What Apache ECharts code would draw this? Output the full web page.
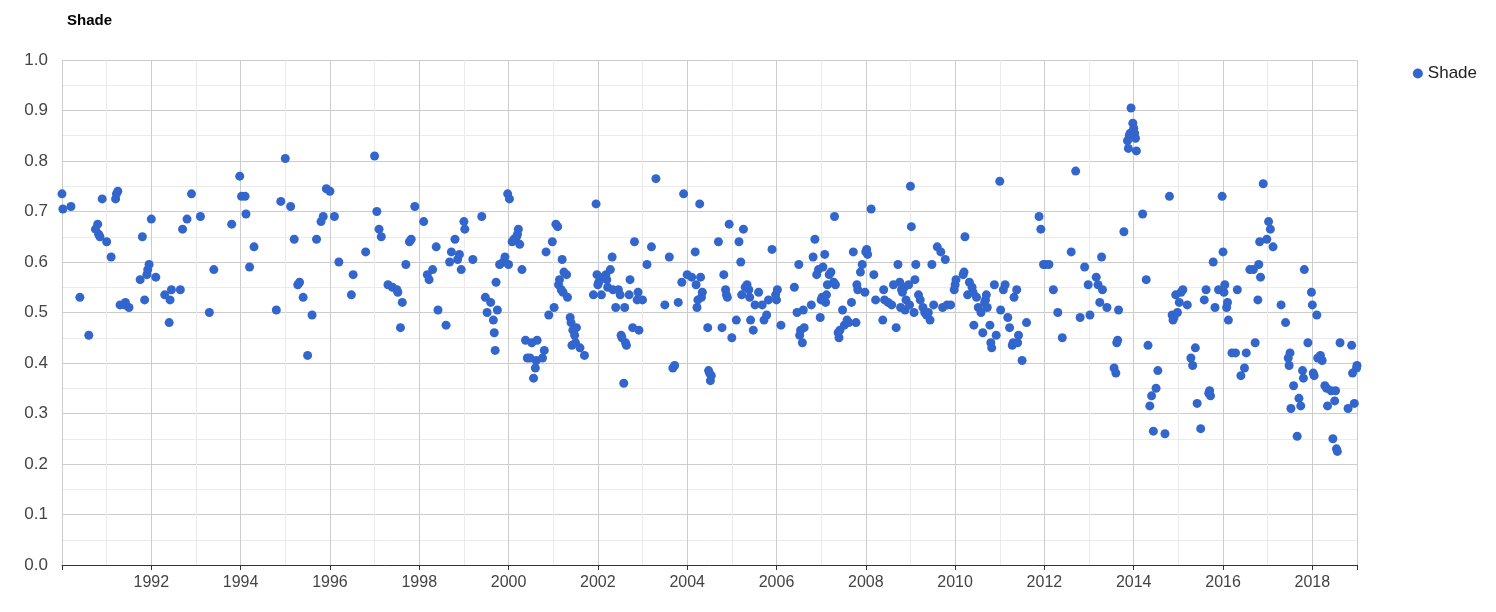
<!DOCTYPE html>
<html>
<head>
<meta charset="utf-8">
<script src="https://cdn.jsdelivr.net/npm/echarts@6/dist/echarts.min.js"></script>
<style>html,body{margin:0;padding:0;background:#fff}#chart{width:1496px;height:612px}</style>
</head>
<body>
<div id="chart"></div>
<script>
// [decimal year, shade]
var shadePoints = [
[1990.0,0.735],[1990.02,0.705],[1990.2,0.71],[1990.4,0.53],[1990.6,0.455],[1990.75,0.665],[1990.8,0.675],[1990.82,0.655],[1990.85,0.65],[1990.9,0.725],[1991.0,0.64],[1991.1,0.61],[1991.2,0.725],[1991.22,0.735],[1991.25,0.74],[1991.3,0.515],[1991.4,0.515],[1991.42,0.52],[1991.5,0.51],[1991.75,0.565],[1991.8,0.65],[1991.85,0.525],[1991.9,0.575],[1991.92,0.585],[1991.95,0.595],[1992.0,0.685],[1992.1,0.57],[1992.3,0.535],[1992.4,0.48],[1992.42,0.525],[1992.45,0.545],[1992.65,0.545],[1992.7,0.665],[1992.8,0.685],[1992.9,0.735],[1993.1,0.69],[1993.3,0.5],[1993.4,0.585],[1993.8,0.675],[1993.98,0.77],[1994.02,0.73],[1994.1,0.73],[1994.12,0.695],[1994.2,0.59],[1994.3,0.63],[1994.8,0.505],[1994.9,0.72],[1995.0,0.805],[1995.12,0.71],[1995.2,0.645],[1995.28,0.555],[1995.32,0.56],[1995.4,0.53],[1995.5,0.415],[1995.6,0.495],[1995.7,0.645],[1995.8,0.68],[1995.85,0.69],[1995.92,0.745],[1996.0,0.74],[1996.1,0.69],[1996.2,0.6],[1996.48,0.535],[1996.52,0.575],[1996.8,0.62],[1997.0,0.81],[1997.05,0.7],[1997.1,0.665],[1997.15,0.65],[1997.3,0.555],[1997.4,0.55],[1997.5,0.545],[1997.52,0.54],[1997.58,0.47],[1997.62,0.52],[1997.7,0.595],[1997.78,0.64],[1997.82,0.645],[1997.9,0.71],[1998.1,0.68],[1998.18,0.575],[1998.22,0.565],[1998.3,0.585],[1998.38,0.63],[1998.42,0.505],[1998.6,0.475],[1998.68,0.6],[1998.72,0.62],[1998.8,0.645],[1998.86,0.605],[1998.9,0.615],[1998.94,0.585],[1999.0,0.68],[1999.02,0.665],[1999.2,0.605],[1999.4,0.69],[1999.48,0.53],[1999.52,0.5],[1999.6,0.52],[1999.66,0.485],[1999.68,0.46],[1999.7,0.425],[1999.72,0.56],[1999.75,0.505],[1999.8,0.595],[1999.88,0.6],[1999.92,0.61],[1999.98,0.735],[2000.02,0.725],[2000.0,0.595],[2000.08,0.64],[2000.12,0.645],[2000.18,0.65],[2000.2,0.655],[2000.22,0.665],[2000.25,0.635],[2000.3,0.585],[2000.38,0.445],[2000.42,0.41],[2000.48,0.41],[2000.52,0.44],[2000.56,0.37],[2000.6,0.39],[2000.62,0.405],[2000.64,0.445],[2000.76,0.41],[2000.8,0.425],[2000.84,0.62],[2000.9,0.495],[2000.98,0.64],[2001.02,0.51],[2001.06,0.675],[2001.1,0.67],[2001.12,0.555],[2001.14,0.565],[2001.18,0.545],[2001.2,0.605],[2001.22,0.54],[2001.24,0.58],[2001.3,0.575],[2001.32,0.53],[2001.38,0.49],[2001.4,0.48],[2001.42,0.435],[2001.44,0.465],[2001.48,0.455],[2001.5,0.44],[2001.52,0.47],[2001.6,0.43],[2001.7,0.415],[2001.9,0.535],[2001.96,0.715],[2001.98,0.575],[2002.0,0.555],[2002.02,0.56],[2002.08,0.535],[2002.12,0.57],[2002.18,0.575],[2002.2,0.565],[2002.22,0.55],[2002.28,0.585],[2002.32,0.61],[2002.34,0.545],[2002.4,0.51],[2002.46,0.545],[2002.5,0.535],[2002.52,0.455],[2002.54,0.45],[2002.58,0.36],[2002.6,0.51],[2002.62,0.44],[2002.64,0.435],[2002.7,0.535],[2002.72,0.565],[2002.78,0.47],[2002.82,0.64],[2002.88,0.525],[2002.9,0.54],[2002.92,0.465],[2003.0,0.525],[2003.1,0.595],[2003.2,0.63],[2003.3,0.765],[2003.5,0.515],[2003.6,0.61],[2003.68,0.39],[2003.72,0.395],[2003.8,0.52],[2003.88,0.56],[2003.92,0.735],[2004.0,0.575],[2004.1,0.57],[2004.18,0.62],[2004.2,0.555],[2004.22,0.51],[2004.24,0.525],[2004.28,0.715],[2004.3,0.57],[2004.32,0.53],[2004.34,0.54],[2004.46,0.47],[2004.48,0.385],[2004.5,0.38],[2004.52,0.365],[2004.54,0.375],[2004.7,0.64],[2004.78,0.47],[2004.82,0.575],[2004.86,0.545],[2004.88,0.535],[2004.9,0.53],[2004.94,0.675],[2005.0,0.45],[2005.1,0.485],[2005.16,0.64],[2005.2,0.6],[2005.22,0.535],[2005.26,0.665],[2005.3,0.55],[2005.34,0.555],[2005.38,0.545],[2005.4,0.53],[2005.42,0.485],[2005.48,0.465],[2005.52,0.515],[2005.6,0.54],[2005.68,0.515],[2005.72,0.485],[2005.78,0.495],[2005.82,0.525],[2005.9,0.625],[2005.98,0.535],[2006.0,0.525],[2006.02,0.545],[2006.1,0.475],[2006.4,0.55],[2006.46,0.5],[2006.5,0.595],[2006.52,0.455],[2006.54,0.465],[2006.58,0.44],[2006.6,0.505],[2006.62,0.47],[2006.78,0.515],[2006.82,0.61],[2006.86,0.645],[2006.9,0.575],[2006.94,0.585],[2006.98,0.49],[2007.0,0.525],[2007.02,0.53],[2007.04,0.59],[2007.08,0.615],[2007.1,0.52],[2007.12,0.535],[2007.14,0.555],[2007.18,0.575],[2007.22,0.58],[2007.28,0.56],[2007.3,0.69],[2007.32,0.555],[2007.38,0.46],[2007.4,0.45],[2007.42,0.465],[2007.48,0.505],[2007.52,0.475],[2007.58,0.485],[2007.62,0.48],[2007.68,0.52],[2007.72,0.62],[2007.78,0.48],[2007.8,0.555],[2007.82,0.545],[2007.88,0.58],[2007.92,0.595],[2007.98,0.54],[2008.0,0.62],[2008.02,0.625],[2008.04,0.615],[2008.12,0.705],[2008.18,0.575],[2008.22,0.525],[2008.38,0.485],[2008.4,0.545],[2008.42,0.525],[2008.5,0.52],[2008.58,0.515],[2008.62,0.555],[2008.68,0.47],[2008.72,0.595],[2008.76,0.56],[2008.78,0.51],[2008.8,0.545],[2008.82,0.54],[2008.86,0.55],[2008.88,0.505],[2008.9,0.525],[2008.96,0.555],[2008.98,0.515],[2009.0,0.75],[2009.02,0.67],[2009.08,0.5],[2009.1,0.565],[2009.12,0.595],[2009.18,0.535],[2009.22,0.525],[2009.28,0.51],[2009.32,0.5],[2009.36,0.495],[2009.4,0.5],[2009.44,0.485],[2009.48,0.595],[2009.52,0.515],[2009.6,0.63],[2009.68,0.62],[2009.72,0.51],[2009.78,0.605],[2009.82,0.515],[2009.9,0.515],[2009.98,0.545],[2010.0,0.555],[2010.02,0.565],[2010.18,0.575],[2010.2,0.58],[2010.22,0.65],[2010.28,0.535],[2010.32,0.56],[2010.38,0.55],[2010.4,0.54],[2010.42,0.475],[2010.48,0.53],[2010.52,0.51],[2010.58,0.5],[2010.62,0.46],[2010.66,0.52],[2010.68,0.525],[2010.7,0.535],[2010.72,0.51],[2010.78,0.475],[2010.8,0.44],[2010.82,0.43],[2010.88,0.555],[2010.92,0.455],[2011.0,0.76],[2011.02,0.505],[2011.08,0.545],[2011.12,0.555],[2011.18,0.49],[2011.22,0.47],[2011.28,0.435],[2011.3,0.44],[2011.32,0.53],[2011.38,0.545],[2011.4,0.44],[2011.42,0.455],[2011.5,0.405],[2011.6,0.48],[2011.88,0.69],[2011.92,0.665],[2011.98,0.595],[2012.02,0.595],[2012.1,0.595],[2012.2,0.545],[2012.3,0.5],[2012.4,0.45],[2012.6,0.62],[2012.7,0.78],[2012.8,0.49],[2012.9,0.59],[2012.98,0.555],[2013.02,0.495],[2013.16,0.57],[2013.2,0.555],[2013.24,0.52],[2013.28,0.61],[2013.3,0.545],[2013.4,0.51],[2013.56,0.39],[2013.6,0.38],[2013.62,0.44],[2013.64,0.445],[2013.66,0.505],[2013.78,0.66],[2013.86,0.84],[2013.88,0.825],[2013.9,0.85],[2013.92,0.855],[2013.94,0.905],[2013.98,0.875],[2014.0,0.865],[2014.02,0.855],[2014.04,0.845],[2014.06,0.82],[2014.2,0.695],[2014.28,0.565],[2014.32,0.435],[2014.36,0.315],[2014.4,0.335],[2014.44,0.265],[2014.5,0.35],[2014.54,0.385],[2014.7,0.26],[2014.8,0.73],[2014.86,0.495],[2014.88,0.485],[2014.9,0.49],[2014.94,0.535],[2014.98,0.5],[2015.02,0.52],[2015.06,0.54],[2015.1,0.545],[2015.2,0.515],[2015.28,0.41],[2015.32,0.395],[2015.38,0.43],[2015.42,0.32],[2015.5,0.27],[2015.58,0.525],[2015.62,0.545],[2015.68,0.34],[2015.7,0.345],[2015.72,0.335],[2015.78,0.6],[2015.82,0.51],[2015.9,0.545],[2015.98,0.73],[2016.0,0.62],[2016.02,0.54],[2016.04,0.555],[2016.08,0.51],[2016.1,0.52],[2016.12,0.485],[2016.2,0.42],[2016.28,0.42],[2016.32,0.545],[2016.4,0.375],[2016.48,0.39],[2016.52,0.42],[2016.6,0.585],[2016.68,0.585],[2016.72,0.44],[2016.78,0.525],[2016.8,0.595],[2016.82,0.64],[2016.84,0.57],[2016.9,0.755],[2016.98,0.645],[2017.02,0.68],[2017.06,0.665],[2017.12,0.63],[2017.3,0.515],[2017.4,0.48],[2017.46,0.41],[2017.48,0.395],[2017.5,0.42],[2017.52,0.31],[2017.58,0.355],[2017.66,0.255],[2017.7,0.33],[2017.74,0.315],[2017.78,0.385],[2017.8,0.37],[2017.82,0.585],[2017.9,0.44],[2017.98,0.54],[2018.0,0.515],[2018.02,0.38],[2018.04,0.375],[2018.1,0.495],[2018.12,0.41],[2018.18,0.415],[2018.22,0.405],[2018.28,0.355],[2018.32,0.35],[2018.34,0.315],[2018.42,0.345],[2018.46,0.25],[2018.5,0.325],[2018.52,0.345],[2018.54,0.23],[2018.56,0.225],[2018.62,0.44],[2018.8,0.31],[2018.88,0.435],[2018.9,0.38],[2018.94,0.32],[2019.0,0.395],[2018.99,0.39]
];
var seriesName = 'Shade';
var yearTicks = [1992, 1994, 1996, 1998, 2000, 2002, 2004, 2006, 2008, 2010, 2012, 2014, 2016, 2018];

var chart = echarts.init(document.getElementById('chart'));
chart.setOption({
    animation: false,
    title: {
        text: seriesName, left: 62, top: 8,
        textStyle: { fontFamily: 'Arial, Liberation Sans', fontSize: 15, fontWeight: 'bold', color: '#000' }
    },
    legend: {
        data: [seriesName], right: 14, top: 60, orient: 'vertical', icon: 'circle', itemWidth: 10, itemHeight: 10,
        textStyle: { fontFamily: 'Arial, Liberation Sans', fontSize: 17, color: '#222' }
    },
    grid: { left: 62, right: 139, top: 60, bottom: 47 },
    xAxis: {
        type: 'value', min: 1990, max: 2019, interval: 2,
        axisLine: { show: true, lineStyle: { color: '#333' } },
        axisTick: { show: true, length: 5, lineStyle: { color: '#333' } },
        axisLabel: {
            fontFamily: 'Arial, Liberation Sans', fontSize: 16, color: '#444', margin: 10,
            formatter: function (v) { return yearTicks.indexOf(v) >= 0 ? String(v) : ''; }
        },
        splitLine: { show: true, lineStyle: { color: '#ccc' } },
        minorTick: { show: false, splitNumber: 2 },
        minorSplitLine: { show: true, lineStyle: { color: '#ebebeb' } }
    },
    yAxis: {
        type: 'value', min: 0, max: 1, interval: 0.1,
        axisLine: { show: false }, axisTick: { show: false },
        axisLabel: {
            fontFamily: 'Arial, Liberation Sans', fontSize: 17, color: '#444', margin: 14,
            formatter: function (v) { return v.toFixed(1); }
        },
        splitLine: { lineStyle: { color: '#ccc' } },
        minorTick: { show: false, splitNumber: 2 },
        minorSplitLine: { show: true, lineStyle: { color: '#ebebeb' } }
    },
    series: [{
        name: seriesName, type: 'scatter', symbolSize: 9,
        itemStyle: { color: '#3366cc', opacity: 1 },
        data: shadePoints
    }]
});
</script>
</body>
</html>
